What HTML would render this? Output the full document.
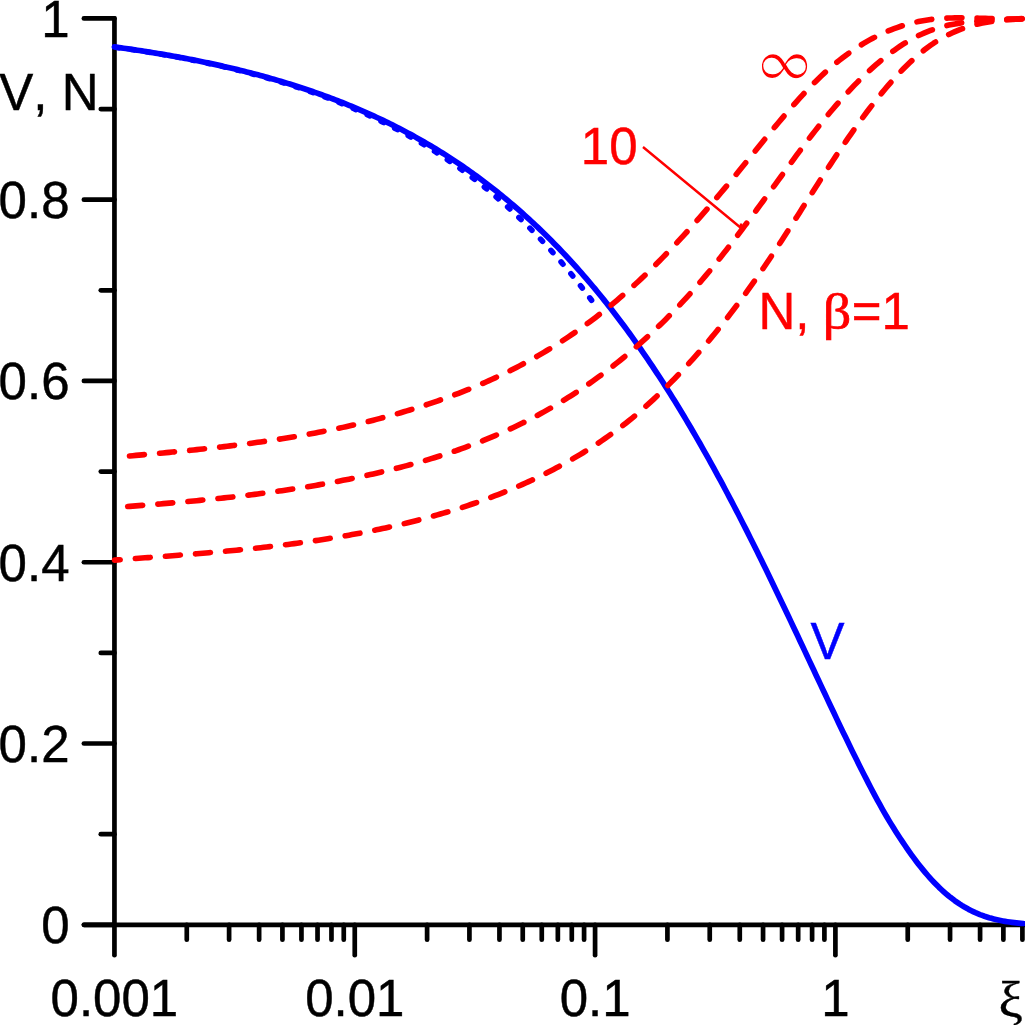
<!DOCTYPE html>
<html lang="en">
<head>
<meta charset="utf-8">
<title>V, N vs ξ</title>
<style>
html,body{margin:0;padding:0;background:#fff;}
body{width:1025px;height:1025px;overflow:hidden;}
svg{display:block;}
text{font-family:"Liberation Sans",Arial,Helvetica,sans-serif;font-size:51px;font-kerning:none;}
.sym{font-family:"Liberation Serif","DejaVu Serif",serif;}
</style>
</head>
<body>
<svg width="1025" height="1025" viewBox="0 0 1025 1025">
<rect width="1025" height="1025" fill="#fff"/>
<!-- axes -->
<g stroke="#000" stroke-width="4.7" stroke-linecap="round" fill="none">
<line x1="114.45" y1="924.80" x2="83.9" y2="924.80"/>
<line x1="114.45" y1="834.16" x2="100.8" y2="834.16"/>
<line x1="114.45" y1="743.52" x2="83.9" y2="743.52"/>
<line x1="114.45" y1="652.88" x2="100.8" y2="652.88"/>
<line x1="114.45" y1="562.24" x2="83.9" y2="562.24"/>
<line x1="114.45" y1="471.60" x2="100.8" y2="471.60"/>
<line x1="114.45" y1="380.96" x2="83.9" y2="380.96"/>
<line x1="114.45" y1="290.32" x2="100.8" y2="290.32"/>
<line x1="114.45" y1="199.68" x2="83.9" y2="199.68"/>
<line x1="114.45" y1="109.04" x2="100.8" y2="109.04"/>
<line x1="114.45" y1="18.40" x2="83.9" y2="18.40"/>
<line x1="114.44" y1="924.8" x2="114.44" y2="955.25"/>
<line x1="186.78" y1="924.8" x2="186.78" y2="939.65"/>
<line x1="229.10" y1="924.8" x2="229.10" y2="939.65"/>
<line x1="259.13" y1="924.8" x2="259.13" y2="939.65"/>
<line x1="282.42" y1="924.8" x2="282.42" y2="939.65"/>
<line x1="301.45" y1="924.8" x2="301.45" y2="939.65"/>
<line x1="317.53" y1="924.8" x2="317.53" y2="939.65"/>
<line x1="331.47" y1="924.8" x2="331.47" y2="939.65"/>
<line x1="343.76" y1="924.8" x2="343.76" y2="939.65"/>
<line x1="354.76" y1="924.8" x2="354.76" y2="955.25"/>
<line x1="427.10" y1="924.8" x2="427.10" y2="939.65"/>
<line x1="469.42" y1="924.8" x2="469.42" y2="939.65"/>
<line x1="499.45" y1="924.8" x2="499.45" y2="939.65"/>
<line x1="522.74" y1="924.8" x2="522.74" y2="939.65"/>
<line x1="541.77" y1="924.8" x2="541.77" y2="939.65"/>
<line x1="557.85" y1="924.8" x2="557.85" y2="939.65"/>
<line x1="571.79" y1="924.8" x2="571.79" y2="939.65"/>
<line x1="584.08" y1="924.8" x2="584.08" y2="939.65"/>
<line x1="595.08" y1="924.8" x2="595.08" y2="955.25"/>
<line x1="667.42" y1="924.8" x2="667.42" y2="939.65"/>
<line x1="709.74" y1="924.8" x2="709.74" y2="939.65"/>
<line x1="739.77" y1="924.8" x2="739.77" y2="939.65"/>
<line x1="763.06" y1="924.8" x2="763.06" y2="939.65"/>
<line x1="782.09" y1="924.8" x2="782.09" y2="939.65"/>
<line x1="798.17" y1="924.8" x2="798.17" y2="939.65"/>
<line x1="812.11" y1="924.8" x2="812.11" y2="939.65"/>
<line x1="824.40" y1="924.8" x2="824.40" y2="939.65"/>
<line x1="835.40" y1="924.8" x2="835.40" y2="955.25"/>
<line x1="907.74" y1="924.8" x2="907.74" y2="939.65"/>
<line x1="950.06" y1="924.8" x2="950.06" y2="939.65"/>
<line x1="980.09" y1="924.8" x2="980.09" y2="939.65"/>
<line x1="1003.38" y1="924.8" x2="1003.38" y2="939.65"/>
<line x1="1022.41" y1="924.8" x2="1022.41" y2="939.65"/>
</g>
<g stroke="#000" stroke-width="4.7" stroke-linecap="round" fill="none">
<line x1="114.45" y1="18.40" x2="114.45" y2="924.8"/>
<line x1="83.9" y1="924.8" x2="1030" y2="924.8"/>
</g>
<!-- curves -->
<g fill="none" stroke-linejoin="round">
<path id="vdot" d="M114.44,47.06 L116.86,47.40 L119.27,47.73 L121.69,48.08 L124.10,48.42 L126.52,48.77 L128.93,49.12 L131.35,49.48 L133.76,49.84 L136.18,50.21 L138.59,50.58 L141.01,50.95 L143.42,51.33 L145.84,51.72 L148.25,52.10 L150.67,52.50 L153.08,52.89 L155.50,53.29 L157.91,53.70 L160.33,54.11 L162.75,54.53 L165.16,54.95 L167.58,55.37 L169.99,55.80 L172.41,56.24 L174.82,56.68 L177.24,57.12 L179.65,57.57 L182.07,58.03 L184.48,58.49 L186.90,58.96 L189.31,59.43 L191.73,59.91 L194.14,60.39 L196.56,60.88 L198.97,61.37 L201.39,61.87 L203.81,62.38 L206.22,62.89 L208.64,63.41 L211.05,63.93 L213.47,64.46 L215.88,65.00 L218.30,65.54 L220.71,66.09 L223.13,66.64 L225.54,67.21 L227.96,67.77 L230.37,68.35 L232.79,68.93 L235.20,69.52 L237.62,70.11 L240.03,70.72 L242.45,71.32 L244.86,71.94 L247.28,72.56 L249.70,73.19 L252.11,73.83 L254.53,74.48 L256.94,75.13 L259.36,75.79 L261.77,76.46 L264.19,77.13 L266.60,77.82 L269.02,78.51 L271.43,79.21 L273.85,79.91 L276.26,80.63 L278.68,81.35 L281.09,82.09 L283.51,82.83 L285.92,83.58 L288.34,84.34 L290.76,85.10 L293.17,85.88 L295.59,86.67 L298.00,87.46 L300.42,88.26 L302.83,89.08 L305.25,89.90 L307.66,90.73 L310.08,91.57 L312.49,92.43 L314.91,93.29 L317.32,94.16 L319.74,95.04 L322.15,95.93 L324.57,96.83 L326.98,97.75 L329.40,98.67 L331.81,99.60 L334.23,100.55 L336.65,101.51 L339.06,102.47 L341.48,103.45 L343.89,104.44 L346.31,105.44 L348.72,106.46 L351.14,107.48 L353.55,108.52 L355.97,109.57 L358.38,110.63 L360.80,111.70 L363.21,112.79 L365.63,113.88 L368.04,115.00 L370.46,116.12 L372.87,117.26 L375.29,118.41 L377.71,119.57 L380.12,120.75 L382.54,121.94 L384.95,123.15 L387.37,124.36 L389.78,125.60 L392.20,126.84 L394.61,128.11 L397.03,129.38 L399.44,130.68 L401.86,131.98 L404.27,133.30 L406.69,134.64 L409.10,135.99 L411.52,137.36 L413.93,138.75 L416.35,140.15 L418.76,141.56 L421.18,143.00 L423.60,144.45 L426.01,145.91 L428.43,147.40 L430.84,148.90 L433.26,150.42 L435.67,151.96 L438.09,153.51 L440.50,155.08 L442.92,156.67 L445.33,158.28 L447.75,159.91 L450.16,161.56 L452.58,163.22 L454.99,164.91 L457.41,166.61 L459.82,168.34 L462.24,170.08 L464.66,171.85 L467.07,173.63 L469.49,175.44 L471.90,177.27 L474.32,179.12 L476.73,180.99 L479.15,182.88 L481.56,184.79 L483.98,186.73 L486.39,188.69 L488.81,190.67 L491.22,192.68 L493.64,194.70 L496.05,196.76 L498.47,198.83 L500.88,200.93 L503.30,203.06 L505.71,205.21 L508.13,207.38 L510.55,209.58 L512.96,211.80 L515.38,214.05 L517.79,216.33 L520.21,218.64 L522.62,220.97 L525.04,223.32 L527.45,225.71 L529.87,228.12 L532.28,230.56 L534.70,233.03 L537.11,235.53 L539.53,238.06 L541.94,240.61 L544.36,243.20 L546.77,245.81 L549.19,248.46 L551.61,251.14 L554.02,253.85 L556.44,256.59 L558.85,259.36 L561.27,262.16 L563.68,265.00 L566.10,267.87 L568.51,270.77 L570.93,273.71 L573.34,276.68 L575.76,279.69 L578.17,282.73 L580.59,285.80 L583.00,288.92 L585.42,292.07 L587.83,295.25 L590.25,298.47 L592.66,301.73 L595.08,305.03" stroke="#0000ff" stroke-width="5.6" stroke-linecap="round" stroke-dasharray="3 12.34" stroke-dashoffset="13.53"/>
<path id="vsolid" d="M114.44,46.93 L116.72,47.24 L119.00,47.56 L121.27,47.88 L123.55,48.20 L125.83,48.52 L128.11,48.85 L130.38,49.18 L132.66,49.52 L134.94,49.86 L137.22,50.20 L139.50,50.55 L141.77,50.90 L144.05,51.26 L146.33,51.61 L148.61,51.98 L150.88,52.34 L153.16,52.71 L155.44,53.09 L157.72,53.47 L160.00,53.85 L162.27,54.23 L164.55,54.63 L166.83,55.02 L169.11,55.42 L171.38,55.82 L173.66,56.23 L175.94,56.64 L178.22,57.06 L180.50,57.48 L182.77,57.91 L185.05,58.34 L187.33,58.77 L189.61,59.21 L191.88,59.66 L194.16,60.11 L196.44,60.56 L198.72,61.02 L201.00,61.48 L203.27,61.95 L205.55,62.43 L207.83,62.91 L210.11,63.39 L212.38,63.88 L214.66,64.38 L216.94,64.88 L219.22,65.38 L221.50,65.89 L223.77,66.41 L226.05,66.93 L228.33,67.46 L230.61,68.00 L232.88,68.53 L235.16,69.08 L237.44,69.63 L239.72,70.19 L242.00,70.75 L244.27,71.32 L246.55,71.90 L248.83,72.48 L251.11,73.06 L253.38,73.66 L255.66,74.26 L257.94,74.87 L260.22,75.48 L262.50,76.10 L264.77,76.72 L267.05,77.36 L269.33,78.00 L271.61,78.64 L273.88,79.30 L276.16,79.96 L278.44,80.63 L280.72,81.30 L283.00,81.98 L285.27,82.67 L287.55,83.37 L289.83,84.08 L292.11,84.79 L294.38,85.51 L296.66,86.23 L298.94,86.97 L301.22,87.71 L303.50,88.46 L305.77,89.22 L308.05,89.99 L310.33,90.76 L312.61,91.55 L314.88,92.34 L317.16,93.14 L319.44,93.95 L321.72,94.77 L324.00,95.59 L326.27,96.43 L328.55,97.27 L330.83,98.12 L333.11,98.98 L335.38,99.86 L337.66,100.74 L339.94,101.63 L342.22,102.52 L344.50,103.43 L346.77,104.35 L349.05,105.28 L351.33,106.22 L353.61,107.16 L355.88,108.12 L358.16,109.09 L360.44,110.07 L362.72,111.05 L365.00,112.05 L367.27,113.06 L369.55,114.08 L371.83,115.11 L374.11,116.15 L376.38,117.21 L378.66,118.27 L380.94,119.34 L383.22,120.43 L385.49,121.53 L387.77,122.63 L390.05,123.76 L392.33,124.89 L394.61,126.03 L396.88,127.19 L399.16,128.35 L401.44,129.54 L403.72,130.73 L405.99,131.93 L408.27,133.15 L410.55,134.38 L412.83,135.62 L415.11,136.88 L417.38,138.15 L419.66,139.43 L421.94,140.73 L424.22,142.03 L426.49,143.36 L428.77,144.69 L431.05,146.04 L433.33,147.41 L435.61,148.79 L437.88,150.18 L440.16,151.58 L442.44,153.01 L444.72,154.44 L446.99,155.89 L449.27,157.36 L451.55,158.84 L453.83,160.33 L456.11,161.84 L458.38,163.37 L460.66,164.91 L462.94,166.47 L465.22,168.04 L467.49,169.63 L469.77,171.24 L472.05,172.86 L474.33,174.50 L476.61,176.15 L478.88,177.83 L481.16,179.51 L483.44,181.22 L485.72,182.94 L487.99,184.68 L490.27,186.44 L492.55,188.22 L494.83,190.01 L497.11,191.82 L499.38,193.65 L501.66,195.50 L503.94,197.37 L506.22,199.25 L508.49,201.15 L510.77,203.08 L513.05,205.02 L515.33,206.98 L517.61,208.96 L519.88,210.96 L522.16,212.98 L524.44,215.02 L526.72,217.08 L528.99,219.16 L531.27,221.26 L533.55,223.38 L535.83,225.52 L538.11,227.68 L540.38,229.86 L542.66,232.06 L544.94,234.29 L547.22,236.54 L549.49,238.80 L551.77,241.09 L554.05,243.41 L556.33,245.74 L558.61,248.10 L560.88,250.48 L563.16,252.88 L565.44,255.30 L567.72,257.75 L569.99,260.22 L572.27,262.71 L574.55,265.23 L576.83,267.77 L579.11,270.33 L581.38,272.92 L583.66,275.53 L585.94,278.16 L588.22,280.82 L590.49,283.51 L592.77,286.22 L595.05,288.95 L597.33,291.71 L599.61,294.49 L601.88,297.30 L604.16,300.13 L606.44,302.99 L608.72,305.88 L610.99,308.79 L613.27,311.72 L615.55,314.69 L617.83,317.67 L620.11,320.69 L622.38,323.73 L624.66,326.80 L626.94,329.89 L629.22,333.01 L631.49,336.16 L633.77,339.33 L636.05,342.53 L638.33,345.76 L640.61,349.01 L642.88,352.29 L645.16,355.60 L647.44,358.94 L649.72,362.30 L651.99,365.69 L654.27,369.11 L656.55,372.56 L658.83,376.03 L661.11,379.53 L663.38,383.06 L665.66,386.62 L667.94,390.20 L670.22,393.81 L672.49,397.45 L674.77,401.12 L677.05,404.82 L679.33,408.54 L681.61,412.29 L683.88,416.07 L686.16,419.87 L688.44,423.71 L690.72,427.57 L692.99,431.46 L695.27,435.37 L697.55,439.32 L699.83,443.29 L702.11,447.29 L704.38,451.31 L706.66,455.36 L708.94,459.44 L711.22,463.55 L713.49,467.68 L715.77,471.83 L718.05,476.02 L720.33,480.23 L722.61,484.46 L724.88,488.72 L727.16,493.01 L729.44,497.32 L731.72,501.65 L733.99,506.01 L736.27,510.39 L738.55,514.80 L740.83,519.23 L743.11,523.68 L745.38,528.16 L747.66,532.65 L749.94,537.17 L752.22,541.71 L754.49,546.27 L756.77,550.85 L759.05,555.45 L761.33,560.07 L763.61,564.71 L765.88,569.37 L768.16,574.04 L770.44,578.73 L772.72,583.44 L774.99,588.16 L777.27,592.90 L779.55,597.65 L781.83,602.42 L784.11,607.20 L786.38,611.99 L788.66,616.79 L790.94,621.60 L793.22,626.42 L795.49,631.25 L797.77,636.08 L800.05,640.93 L802.33,645.77 L804.61,650.63 L806.88,655.48 L809.16,660.34 L811.44,665.20 L813.72,670.06 L815.99,674.92 L818.27,679.77 L820.55,684.63 L822.83,689.47 L825.11,694.31 L827.38,699.15 L829.66,703.97 L831.94,708.78 L834.22,713.58 L836.49,718.37 L838.77,723.15 L841.05,727.90 L843.33,732.64 L845.61,737.36 L847.88,742.05 L850.16,746.73 L852.44,751.38 L854.72,756.00 L856.99,760.59 L859.27,765.16 L861.55,769.69 L863.83,774.19 L866.11,778.66 L868.38,783.09 L870.66,787.48 L872.94,791.82 L875.22,796.10 L877.49,800.32 L879.77,804.48 L882.05,808.57 L884.33,812.58 L886.61,816.52 L888.88,820.37 L891.16,824.15 L893.44,827.85 L895.72,831.46 L897.99,835.01 L900.27,838.48 L902.55,841.89 L904.83,845.25 L907.11,848.56 L909.38,851.83 L911.66,855.03 L913.94,858.15 L916.22,861.20 L918.49,864.17 L920.77,867.07 L923.05,869.88 L925.33,872.62 L927.60,875.27 L929.88,877.85 L932.16,880.34 L934.44,882.75 L936.72,885.08 L938.99,887.33 L941.27,889.49 L943.55,891.58 L945.83,893.58 L948.10,895.50 L950.38,897.35 L952.66,899.11 L954.94,900.80 L957.22,902.40 L959.49,903.94 L961.77,905.40 L964.05,906.78 L966.33,908.09 L968.60,909.34 L970.88,910.51 L973.16,911.62 L975.44,912.67 L977.72,913.65 L979.99,914.57 L982.27,915.43 L984.55,916.24 L986.83,916.99 L989.10,917.70 L991.38,918.35 L993.66,918.95 L995.94,919.51 L998.22,920.03 L1000.49,920.50 L1002.77,920.94 L1005.05,921.34 L1007.33,921.71 L1009.60,922.04 L1011.88,922.35 L1014.16,922.62 L1016.44,922.87 L1018.72,923.10 L1020.99,923.30 L1023.27,923.49" stroke="#0000ff" stroke-width="5.7" stroke-linecap="round"/>
<path id="ninf" d="M114.50,457.26 L117.55,457.00 L120.59,456.73 L123.64,456.47 L126.68,456.21 L129.73,455.94 L132.77,455.68 L135.82,455.41 L138.86,455.14 L141.91,454.87 L144.95,454.60 L148.00,454.33 L151.04,454.06 L154.09,453.78 L157.13,453.50 L160.18,453.22 L163.22,452.94 L166.27,452.66 L169.31,452.37 L172.36,452.08 L175.40,451.79 L178.45,451.49 L181.49,451.19 L184.54,450.89 L187.58,450.59 L190.63,450.28 L193.67,449.97 L196.72,449.65 L199.76,449.33 L202.81,449.01 L205.85,448.68 L208.90,448.35 L211.94,448.01 L214.99,447.67 L218.04,447.32 L221.08,446.97 L224.13,446.62 L227.17,446.26 L230.22,445.89 L233.26,445.52 L236.31,445.14 L239.35,444.76 L242.40,444.37 L245.44,443.97 L248.49,443.57 L251.53,443.17 L254.58,442.75 L257.62,442.33 L260.67,441.91 L263.71,441.47 L266.76,441.03 L269.80,440.58 L272.85,440.13 L275.89,439.67 L278.94,439.20 L281.98,438.72 L285.03,438.24 L288.07,437.74 L291.12,437.24 L294.16,436.73 L297.21,436.22 L300.25,435.69 L303.30,435.16 L306.34,434.61 L309.39,434.06 L312.43,433.50 L315.48,432.93 L318.53,432.35 L321.57,431.76 L324.62,431.16 L327.66,430.56 L330.71,429.94 L333.75,429.31 L336.80,428.67 L339.84,428.02 L342.89,427.37 L345.93,426.70 L348.98,426.02 L352.02,425.33 L355.07,424.63 L358.11,423.91 L361.16,423.19 L364.20,422.45 L367.25,421.71 L370.29,420.95 L373.34,420.18 L376.38,419.40 L379.43,418.60 L382.47,417.80 L385.52,416.98 L388.56,416.15 L391.61,415.31 L394.65,414.45 L397.70,413.58 L400.74,412.70 L403.79,411.80 L406.83,410.90 L409.88,409.98 L412.92,409.04 L415.97,408.09 L419.02,407.13 L422.06,406.15 L425.11,405.16 L428.15,404.16 L431.20,403.14 L434.24,402.10 L437.29,401.05 L440.33,399.99 L443.38,398.91 L446.42,397.82 L449.47,396.71 L452.51,395.58 L455.56,394.43 L458.60,393.27 L461.65,392.09 L464.69,390.89 L467.74,389.68 L470.78,388.45 L473.83,387.19 L476.87,385.92 L479.92,384.63 L482.96,383.31 L486.01,381.98 L489.05,380.63 L492.10,379.25 L495.14,377.86 L498.19,376.44 L501.23,375.00 L504.28,373.54 L507.32,372.05 L510.37,370.54 L513.41,369.01 L516.46,367.45 L519.51,365.87 L522.55,364.27 L525.60,362.64 L528.64,360.98 L531.69,359.30 L534.73,357.59 L537.78,355.86 L540.82,354.10 L543.87,352.31 L546.91,350.49 L549.96,348.65 L553.00,346.78 L556.05,344.88 L559.09,342.95 L562.14,340.99 L565.18,339.00 L568.23,336.98 L571.27,334.93 L574.32,332.85 L577.36,330.74 L580.41,328.60 L583.45,326.43 L586.50,324.22 L589.54,321.98 L592.59,319.71 L595.63,317.41 L598.68,315.07 L601.72,312.70 L604.77,310.29 L607.81,307.85 L610.86,305.37 L613.90,302.86 L616.95,300.32 L619.99,297.73 L623.04,295.11 L626.09,292.46 L629.13,289.76 L632.18,287.03 L635.22,284.27 L638.27,281.46 L641.31,278.61 L644.36,275.73 L647.40,272.81 L650.45,269.85 L653.49,266.86 L656.54,263.83 L659.58,260.76 L662.63,257.66 L665.67,254.53 L668.72,251.37 L671.76,248.17 L674.81,244.95 L677.85,241.69 L680.90,238.40 L683.94,235.09 L686.99,231.74 L690.03,228.37 L693.08,224.97 L696.12,221.55 L699.17,218.10 L702.21,214.62 L705.26,211.12 L708.30,207.60 L711.35,204.06 L714.39,200.49 L717.44,196.90 L720.48,193.29 L723.53,189.67 L726.58,186.02 L729.62,182.36 L732.67,178.67 L735.71,174.98 L738.76,171.26 L741.80,167.53 L744.85,163.79 L747.89,160.03 L750.94,156.27 L753.98,152.51 L757.03,148.75 L760.07,144.99 L763.12,141.23 L766.16,137.50 L769.21,133.77 L772.25,130.06 L775.30,126.38 L778.34,122.72 L781.39,119.09 L784.43,115.50 L787.48,111.94 L790.52,108.42 L793.57,104.95 L796.61,101.52 L799.66,98.14 L802.70,94.82 L805.75,91.56 L808.79,88.36 L811.84,85.22 L814.88,82.16 L817.93,79.16 L820.97,76.25 L824.02,73.41 L827.07,70.65 L830.11,67.97 L833.16,65.36 L836.20,62.83 L839.25,60.38 L842.29,58.00 L845.34,55.70 L848.38,53.47 L851.43,51.32 L854.47,49.24 L857.52,47.23 L860.56,45.29 L863.61,43.43 L866.65,41.64 L869.70,39.91 L872.74,38.26 L875.79,36.68 L878.83,35.17 L881.88,33.73 L884.92,32.35 L887.97,31.04 L891.01,29.80 L894.06,28.63 L897.10,27.52 L900.15,26.48 L903.19,25.50 L906.24,24.58 L909.28,23.73 L912.33,22.95 L915.37,22.22 L918.42,21.56 L921.46,20.96 L924.51,20.43 L927.56,19.95 L930.60,19.53 L933.65,19.16 L936.69,18.85 L939.74,18.58 L942.78,18.36 L945.83,18.19 L948.87,18.05 L951.92,17.95 L954.96,17.88 L958.01,17.84 L961.05,17.83 L964.10,17.85 L967.14,17.89 L970.19,17.94 L973.23,18.01 L976.28,18.10 L979.32,18.19 L982.37,18.29 L985.41,18.39 L988.46,18.49 L991.50,18.59 L994.55,18.69 L997.59,18.77 L1000.64,18.85 L1003.68,18.91 L1006.73,18.95 L1009.77,18.97 L1012.82,18.97 L1015.86,18.94 L1018.91,18.88 L1021.95,18.79 L1025.00,18.67" stroke="#ff0000" stroke-width="5.6" stroke-linecap="round" stroke-dasharray="15 15.19" stroke-dashoffset="15.15"/>
<path id="n10" d="M114.50,507.53 L117.55,507.29 L120.59,507.06 L123.64,506.83 L126.68,506.59 L129.73,506.36 L132.77,506.12 L135.82,505.88 L138.86,505.64 L141.91,505.40 L144.95,505.16 L148.00,504.91 L151.04,504.67 L154.09,504.42 L157.13,504.17 L160.18,503.92 L163.22,503.66 L166.27,503.40 L169.31,503.14 L172.36,502.88 L175.40,502.61 L178.45,502.35 L181.49,502.07 L184.54,501.80 L187.58,501.52 L190.63,501.24 L193.67,500.95 L196.72,500.67 L199.76,500.37 L202.81,500.08 L205.85,499.78 L208.90,499.47 L211.94,499.17 L214.99,498.85 L218.04,498.54 L221.08,498.21 L224.13,497.89 L227.17,497.56 L230.22,497.22 L233.26,496.88 L236.31,496.54 L239.35,496.18 L242.40,495.83 L245.44,495.47 L248.49,495.10 L251.53,494.73 L254.58,494.35 L257.62,493.97 L260.67,493.57 L263.71,493.18 L266.76,492.78 L269.80,492.37 L272.85,491.95 L275.89,491.53 L278.94,491.10 L281.98,490.67 L285.03,490.22 L288.07,489.77 L291.12,489.32 L294.16,488.85 L297.21,488.38 L300.25,487.91 L303.30,487.42 L306.34,486.93 L309.39,486.43 L312.43,485.92 L315.48,485.40 L318.53,484.87 L321.57,484.34 L324.62,483.80 L327.66,483.25 L330.71,482.69 L333.75,482.12 L336.80,481.54 L339.84,480.96 L342.89,480.36 L345.93,479.76 L348.98,479.15 L352.02,478.52 L355.07,477.89 L358.11,477.25 L361.16,476.60 L364.20,475.94 L367.25,475.27 L370.29,474.59 L373.34,473.90 L376.38,473.19 L379.43,472.48 L382.47,471.76 L385.52,471.03 L388.56,470.28 L391.61,469.53 L394.65,468.76 L397.70,467.99 L400.74,467.20 L403.79,466.40 L406.83,465.59 L409.88,464.77 L412.92,463.93 L415.97,463.09 L419.02,462.23 L422.06,461.35 L425.11,460.47 L428.15,459.57 L431.20,458.65 L434.24,457.72 L437.29,456.78 L440.33,455.82 L443.38,454.85 L446.42,453.86 L449.47,452.85 L452.51,451.83 L455.56,450.79 L458.60,449.74 L461.65,448.66 L464.69,447.57 L467.74,446.46 L470.78,445.33 L473.83,444.19 L476.87,443.02 L479.92,441.83 L482.96,440.63 L486.01,439.40 L489.05,438.16 L492.10,436.89 L495.14,435.60 L498.19,434.29 L501.23,432.96 L504.28,431.61 L507.32,430.23 L510.37,428.84 L513.41,427.41 L516.46,425.97 L519.51,424.50 L522.55,423.01 L525.60,421.49 L528.64,419.95 L531.69,418.38 L534.73,416.79 L537.78,415.17 L540.82,413.52 L543.87,411.85 L546.91,410.15 L549.96,408.43 L553.00,406.67 L556.05,404.89 L559.09,403.08 L562.14,401.25 L565.18,399.38 L568.23,397.48 L571.27,395.56 L574.32,393.60 L577.36,391.62 L580.41,389.60 L583.45,387.56 L586.50,385.48 L589.54,383.37 L592.59,381.23 L595.63,379.05 L598.68,376.85 L601.72,374.61 L604.77,372.34 L607.81,370.03 L610.86,367.69 L613.90,365.32 L616.95,362.91 L619.99,360.47 L623.04,357.99 L626.09,355.48 L629.13,352.93 L632.18,350.34 L635.22,347.72 L638.27,345.06 L641.31,342.37 L644.36,339.63 L647.40,336.86 L650.45,334.05 L653.49,331.20 L656.54,328.31 L659.58,325.38 L662.63,322.41 L665.67,319.40 L668.72,316.34 L671.76,313.24 L674.81,310.10 L677.85,306.92 L680.90,303.69 L683.94,300.41 L686.99,297.09 L690.03,293.73 L693.08,290.31 L696.12,286.85 L699.17,283.34 L702.21,279.78 L705.26,276.18 L708.30,272.52 L711.35,268.82 L714.39,265.07 L717.44,261.28 L720.48,257.45 L723.53,253.58 L726.58,249.68 L729.62,245.75 L732.67,241.78 L735.71,237.79 L738.76,233.78 L741.80,229.74 L744.85,225.69 L747.89,221.61 L750.94,217.52 L753.98,213.41 L757.03,209.29 L760.07,205.16 L763.12,201.01 L766.16,196.86 L769.21,192.69 L772.25,188.52 L775.30,184.34 L778.34,180.16 L781.39,175.98 L784.43,171.80 L787.48,167.63 L790.52,163.47 L793.57,159.32 L796.61,155.19 L799.66,151.09 L802.70,147.02 L805.75,142.98 L808.79,138.97 L811.84,135.01 L814.88,131.10 L817.93,127.23 L820.97,123.42 L824.02,119.66 L827.07,115.95 L830.11,112.30 L833.16,108.70 L836.20,105.16 L839.25,101.68 L842.29,98.26 L845.34,94.90 L848.38,91.60 L851.43,88.37 L854.47,85.19 L857.52,82.09 L860.56,79.05 L863.61,76.08 L866.65,73.18 L869.70,70.35 L872.74,67.59 L875.79,64.91 L878.83,62.30 L881.88,59.76 L884.92,57.30 L887.97,54.92 L891.01,52.62 L894.06,50.39 L897.10,48.25 L900.15,46.19 L903.19,44.22 L906.24,42.33 L909.28,40.52 L912.33,38.81 L915.37,37.18 L918.42,35.64 L921.46,34.19 L924.51,32.84 L927.56,31.58 L930.60,30.41 L933.65,29.32 L936.69,28.33 L939.74,27.41 L942.78,26.57 L945.83,25.80 L948.87,25.10 L951.92,24.46 L954.96,23.89 L958.01,23.37 L961.05,22.90 L964.10,22.48 L967.14,22.11 L970.19,21.78 L973.23,21.49 L976.28,21.22 L979.32,20.99 L982.37,20.78 L985.41,20.60 L988.46,20.43 L991.50,20.28 L994.55,20.13 L997.59,19.99 L1000.64,19.85 L1003.68,19.71 L1006.73,19.57 L1009.77,19.41 L1012.82,19.24 L1015.86,19.05 L1018.91,18.84 L1021.95,18.60 L1025.00,18.34" stroke="#ff0000" stroke-width="5.6" stroke-linecap="round" stroke-dasharray="15 15.19" stroke-dashoffset="16.94"/>
<path id="n1" d="M114.50,560.15 L117.55,559.91 L120.59,559.68 L123.64,559.44 L126.68,559.21 L129.73,558.98 L132.77,558.75 L135.82,558.51 L138.86,558.28 L141.91,558.05 L144.95,557.82 L148.00,557.59 L151.04,557.36 L154.09,557.12 L157.13,556.89 L160.18,556.66 L163.22,556.42 L166.27,556.19 L169.31,555.95 L172.36,555.71 L175.40,555.47 L178.45,555.23 L181.49,554.99 L184.54,554.75 L187.58,554.50 L190.63,554.25 L193.67,554.00 L196.72,553.75 L199.76,553.49 L202.81,553.23 L205.85,552.97 L208.90,552.71 L211.94,552.44 L214.99,552.17 L218.04,551.90 L221.08,551.62 L224.13,551.34 L227.17,551.06 L230.22,550.77 L233.26,550.48 L236.31,550.19 L239.35,549.89 L242.40,549.58 L245.44,549.27 L248.49,548.96 L251.53,548.64 L254.58,548.32 L257.62,547.99 L260.67,547.66 L263.71,547.32 L266.76,546.98 L269.80,546.63 L272.85,546.27 L275.89,545.91 L278.94,545.54 L281.98,545.17 L285.03,544.79 L288.07,544.41 L291.12,544.01 L294.16,543.62 L297.21,543.21 L300.25,542.80 L303.30,542.38 L306.34,541.95 L309.39,541.52 L312.43,541.08 L315.48,540.63 L318.53,540.17 L321.57,539.71 L324.62,539.24 L327.66,538.75 L330.71,538.27 L333.75,537.77 L336.80,537.26 L339.84,536.75 L342.89,536.23 L345.93,535.69 L348.98,535.15 L352.02,534.60 L355.07,534.04 L358.11,533.47 L361.16,532.90 L364.20,532.31 L367.25,531.71 L370.29,531.10 L373.34,530.48 L376.38,529.85 L379.43,529.22 L382.47,528.57 L385.52,527.91 L388.56,527.24 L391.61,526.55 L394.65,525.86 L397.70,525.16 L400.74,524.44 L403.79,523.71 L406.83,522.98 L409.88,522.23 L412.92,521.46 L415.97,520.69 L419.02,519.90 L422.06,519.11 L425.11,518.30 L428.15,517.47 L431.20,516.64 L434.24,515.79 L437.29,514.93 L440.33,514.05 L443.38,513.16 L446.42,512.26 L449.47,511.35 L452.51,510.42 L455.56,509.47 L458.60,508.51 L461.65,507.54 L464.69,506.55 L467.74,505.54 L470.78,504.52 L473.83,503.49 L476.87,502.43 L479.92,501.36 L482.96,500.27 L486.01,499.16 L489.05,498.04 L492.10,496.90 L495.14,495.74 L498.19,494.55 L501.23,493.36 L504.28,492.14 L507.32,490.90 L510.37,489.64 L513.41,488.36 L516.46,487.06 L519.51,485.73 L522.55,484.39 L525.60,483.02 L528.64,481.63 L531.69,480.22 L534.73,478.79 L537.78,477.33 L540.82,475.85 L543.87,474.35 L546.91,472.82 L549.96,471.27 L553.00,469.69 L556.05,468.09 L559.09,466.46 L562.14,464.81 L565.18,463.13 L568.23,461.42 L571.27,459.69 L574.32,457.93 L577.36,456.14 L580.41,454.33 L583.45,452.49 L586.50,450.61 L589.54,448.71 L592.59,446.77 L595.63,444.80 L598.68,442.80 L601.72,440.75 L604.77,438.68 L607.81,436.56 L610.86,434.40 L613.90,432.20 L616.95,429.96 L619.99,427.67 L623.04,425.33 L626.09,422.95 L629.13,420.53 L632.18,418.05 L635.22,415.52 L638.27,412.95 L641.31,410.32 L644.36,407.65 L647.40,404.94 L650.45,402.17 L653.49,399.36 L656.54,396.51 L659.58,393.61 L662.63,390.66 L665.67,387.68 L668.72,384.64 L671.76,381.57 L674.81,378.45 L677.85,375.29 L680.90,372.09 L683.94,368.85 L686.99,365.56 L690.03,362.23 L693.08,358.85 L696.12,355.43 L699.17,351.97 L702.21,348.46 L705.26,344.90 L708.30,341.30 L711.35,337.66 L714.39,333.97 L717.44,330.23 L720.48,326.44 L723.53,322.61 L726.58,318.73 L729.62,314.80 L732.67,310.83 L735.71,306.80 L738.76,302.73 L741.80,298.61 L744.85,294.45 L747.89,290.23 L750.94,285.97 L753.98,281.66 L757.03,277.31 L760.07,272.91 L763.12,268.47 L766.16,263.98 L769.21,259.44 L772.25,254.87 L775.30,250.25 L778.34,245.60 L781.39,240.92 L784.43,236.21 L787.48,231.48 L790.52,226.72 L793.57,221.95 L796.61,217.17 L799.66,212.38 L802.70,207.59 L805.75,202.79 L808.79,198.00 L811.84,193.22 L814.88,188.44 L817.93,183.68 L820.97,178.94 L824.02,174.22 L827.07,169.52 L830.11,164.86 L833.16,160.23 L836.20,155.63 L839.25,151.08 L842.29,146.56 L845.34,142.10 L848.38,137.67 L851.43,133.30 L854.47,128.98 L857.52,124.72 L860.56,120.51 L863.61,116.36 L866.65,112.28 L869.70,108.26 L872.74,104.30 L875.79,100.42 L878.83,96.61 L881.88,92.87 L884.92,89.21 L887.97,85.63 L891.01,82.13 L894.06,78.72 L897.10,75.39 L900.15,72.16 L903.19,69.01 L906.24,65.97 L909.28,63.01 L912.33,60.16 L915.37,57.41 L918.42,54.77 L921.46,52.23 L924.51,49.81 L927.56,47.49 L930.60,45.29 L933.65,43.21 L936.69,41.24 L939.74,39.38 L942.78,37.62 L945.83,35.97 L948.87,34.42 L951.92,32.96 L954.96,31.60 L958.01,30.33 L961.05,29.15 L964.10,28.05 L967.14,27.03 L970.19,26.09 L973.23,25.23 L976.28,24.44 L979.32,23.71 L982.37,23.05 L985.41,22.46 L988.46,21.92 L991.50,21.44 L994.55,21.01 L997.59,20.63 L1000.64,20.30 L1003.68,20.01 L1006.73,19.76 L1009.77,19.55 L1012.82,19.38 L1015.86,19.23 L1018.91,19.11 L1021.95,19.02 L1025.00,18.94" stroke="#ff0000" stroke-width="5.6" stroke-linecap="round" stroke-dasharray="15 15.17" stroke-dashoffset="9.31"/>
<path d="M643,147 L741,228 M741,223.5 L741,230.5" stroke="#ff0000" stroke-width="2.4"/>
</g>
<!-- labels -->
<g fill="#000" stroke="#000" stroke-width="0.45">
<text x="69.5" y="36.7" text-anchor="end">1</text>
<text x="69.5" y="218.0" text-anchor="end">0.8</text>
<text x="69.5" y="399.3" text-anchor="end">0.6</text>
<text x="69.5" y="580.5" text-anchor="end">0.4</text>
<text x="69.5" y="761.8" text-anchor="end">0.2</text>
<text x="69.5" y="943.1" text-anchor="end">0</text>
<text x="114.4" y="1016.3" text-anchor="middle">0.001</text>
<text x="354.8" y="1016.3" text-anchor="middle">0.01</text>
<text x="595.1" y="1016.3" text-anchor="middle">0.1</text>
<text x="835.4" y="1016.3" text-anchor="middle">1</text>
<text x="-0.7" y="110.2">V, N</text>
<text class="sym" transform="translate(998.4,1017.3) scale(1.07,1)" stroke-width="0.35">ξ</text>
</g>
<g fill="#ff0000" stroke="#ff0000" stroke-width="0.45">
<text x="580.8" y="164.4">10</text>
<text x="758.5" y="329">N, </text>
<text class="sym" transform="translate(822.7,329) scale(1.1,1)" stroke-width="0.7">β</text>
<text x="851.7" y="329">=1</text>
<text transform="translate(816.0,85.92) scale(-0.7548,0.6658)" style="font-family:'DejaVu Serif','Liberation Serif',serif;font-size:100px" stroke="#fff" stroke-width="1.4" paint-order="fill stroke" vector-effect="non-scaling-stroke">∞</text>
</g>
<text x="810.6" y="658.8" fill="#0000ff" stroke="#0000ff" stroke-width="0.45">V</text>
</svg>
</body>
</html>
